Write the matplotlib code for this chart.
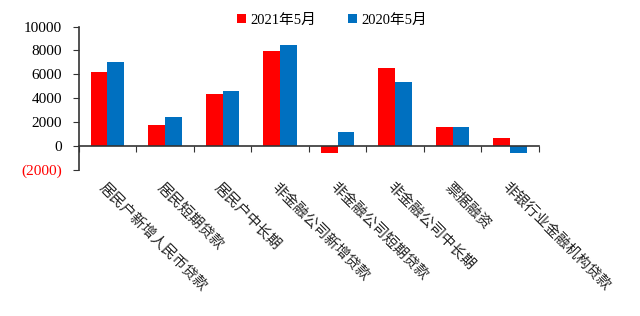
import numpy as np
import matplotlib
matplotlib.use('Agg')
import matplotlib.pyplot as plt

plt.rcParams['font.family'] = ['Liberation Serif', 'Noto Sans CJK SC']
plt.rcParams['axes.unicode_minus'] = False

# data
categories = ['居民户新增人民币贷款', '居民短期贷款', '居民户中长期', '非金融公司新增贷款',
              '非金融公司短期贷款', '非金融公司中长期', '票据融资', '非银行业金融机构贷款']
may_2021 = [6170, 1800, 4370, 7970, -550, 6530, 1610, 640]
may_2020 = [7030, 2450, 4620, 8420, 1220, 5330, 1610, -550]
series_names = ['2021年5月', '2020年5月']
yticks = [-2000, 0, 2000, 4000, 6000, 8000, 10000]

fig = plt.figure(figsize=(6.4, 3.16), dpi=100)
ax = fig.add_axes([0.123, 0.462, 0.719, 0.454])

x = np.arange(len(categories))
w = 0.29
ax.bar(x - w / 2, may_2021, w, color='#FF0000', label=series_names[0])
ax.bar(x + w / 2, may_2020, w, color='#0070C0', label=series_names[1])

ax.set_xlim(-0.5, len(categories) - 0.5)
ax.set_ylim(-2000, 10000)
ax.set_yticks(yticks)
ylabels = ['({})'.format(-v) if v < 0 else str(v) for v in yticks]
ax.set_yticklabels(ylabels, fontsize=11)
for lab, v in zip(ax.get_yticklabels(), yticks):
    if v < 0:
        lab.set_color('#FF0000')

# x axis sits on zero, ticks between the groups
ax.spines['top'].set_visible(False)
ax.spines['right'].set_visible(False)
ax.spines['bottom'].set_position(('data', 0))
ax.spines['bottom'].set_color('#333333')
ax.spines['left'].set_color('#333333')
ax.spines['bottom'].set_linewidth(1.2)
ax.spines['left'].set_linewidth(1.2)
ax.set_xticks(np.arange(len(categories) + 1) - 0.5)
ax.set_xticklabels([])
ax.tick_params(axis='x', direction='out', length=4, color='#333333')
ax.tick_params(axis='y', direction='out', length=4, color='#333333', pad=8)

for i, name in enumerate(categories):
    ax.text(i - 0.1, -3250, name, rotation=-45, rotation_mode='anchor',
            ha='left', va='center', fontsize=10.5, color='#222222',
            family=['Noto Sans CJK SC', 'DejaVu Sans'])

ax.legend(loc='center', bbox_to_anchor=(0.55, 1.045), ncol=2, frameon=False,
          fontsize=10.5, handlelength=0.6, handleheight=0.6, handletextpad=0.3,
          columnspacing=2.2, borderaxespad=0)

fig.savefig('out.png', dpi=100)
